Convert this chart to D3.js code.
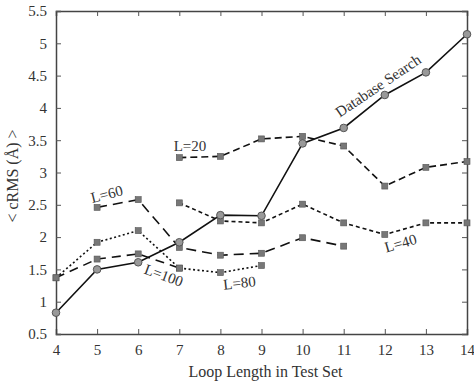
<!DOCTYPE html>
<html>
<head>
<meta charset="utf-8">
<script src="https://cdn.jsdelivr.net/npm/d3@7"></script>
<style>
body { margin: 0; background: #fff; }
text { font-family: "Liberation Serif", "Times New Roman", serif; fill: #333; }
</style>
</head>
<body>
<svg width="474" height="384"></svg>
<script>
var width = 474;
var height = 384;
var margin = {top: 11, right: 7, bottom: 50, left: 56};

// values
var dbX = [4, 5, 6, 7, 8, 9, 10, 11, 12, 13, 14];
var dbY = [0.83, 1.5, 1.61, 1.92, 2.34, 2.33, 3.45, 3.69, 4.2, 4.55, 5.14];
var l20X = [7, 8, 9, 10, 11, 12, 13, 14];
var l20Y = [3.23, 3.25, 3.52, 3.56, 3.41, 2.79, 3.08, 3.17];
var l40X = [7, 8, 9, 10, 11, 12, 13, 14];
var l40Y = [2.53, 2.25, 2.22, 2.51, 2.22, 2.04, 2.22, 2.22];
var l60X = [5, 6, 7, 8, 9, 10, 11];
var l60Y = [2.46, 2.58, 1.84, 1.72, 1.75, 1.99, 1.86];
var l80X = [4, 5, 6, 7, 8, 9];
var l80Y = [1.37, 1.92, 2.1, 1.52, 1.45, 1.56];
var l100X = [4, 5, 6, 7];
var l100Y = [1.37, 1.66, 1.74, 1.52];
var xTicks = [4, 5, 6, 7, 8, 9, 10, 11, 12, 13, 14];
var yTicks = [0.5, 1, 1.5, 2, 2.5, 3, 3.5, 4, 4.5, 5, 5.5];

var xScale = d3.scaleLinear()
    .domain([4, 14])
    .range([margin.left, width - margin.right]);
var yScale = d3.scaleLinear()
    .domain([0.5, 5.5])
    .range([height - margin.bottom, margin.top]);

var svg = d3.select("svg");

// axes with inward ticks on all four sides
var bottom = svg.append("g")
    .attr("transform", "translate(0," + (height - margin.bottom) + ")")
    .call(d3.axisBottom(xScale).tickValues(xTicks).tickSize(-5).tickPadding(10).tickFormat(d3.format("d")));
var top = svg.append("g")
    .attr("transform", "translate(0," + margin.top + ")")
    .call(d3.axisTop(xScale).tickValues(xTicks).tickSize(-5).tickFormat(""));
var left = svg.append("g")
    .attr("transform", "translate(" + margin.left + ",0)")
    .call(d3.axisLeft(yScale).tickValues(yTicks).tickSize(-5).tickPadding(9).tickFormat(d => String(d)));
var right = svg.append("g")
    .attr("transform", "translate(" + (width - margin.right) + ",0)")
    .call(d3.axisRight(yScale).tickValues(yTicks).tickSize(-5).tickFormat(""));

svg.selectAll(".domain").attr("stroke", "#444").attr("stroke-width", 1.5);
svg.selectAll(".tick line").attr("stroke", "#555").attr("stroke-width", 1);
svg.selectAll(".tick text")
    .style("font-family", "Liberation Serif, serif")
    .style("font-size", "15px")
    .attr("fill", "#333");

var series = [
    {x: l100X, y: l100Y, dash: "9,6", marker: "square"},
    {x: l80X, y: l80Y, dash: "2,2.5", marker: "square"},
    {x: l60X, y: l60Y, dash: "10,6", marker: "square"},
    {x: l40X, y: l40Y, dash: "4,3", marker: "square"},
    {x: l20X, y: l20Y, dash: "7,4", marker: "square"},
    {x: dbX, y: dbY, dash: null, marker: "circle"}
];

var line = d3.line()
    .x(d => xScale(d[0]))
    .y(d => yScale(d[1]));

series.forEach(function(s) {
    var pts = s.x.map((v, i) => [v, s.y[i]]);
    svg.append("path")
        .datum(pts)
        .attr("d", line)
        .attr("fill", "none")
        .attr("stroke", "#111")
        .attr("stroke-width", 1.6)
        .attr("stroke-dasharray", s.dash);
    if (s.marker === "circle") {
        svg.selectAll(null)
            .data(pts)
            .enter()
            .append("circle")
            .attr("cx", d => xScale(d[0]))
            .attr("cy", d => yScale(d[1]))
            .attr("r", 3.8)
            .attr("fill", "#999")
            .attr("stroke", "#555")
            .attr("stroke-width", 1);
    } else {
        svg.selectAll(null)
            .data(pts)
            .enter()
            .append("rect")
            .attr("x", d => xScale(d[0]) - 3)
            .attr("y", d => yScale(d[1]) - 3)
            .attr("width", 6)
            .attr("height", 6)
            .attr("fill", "#777")
            .attr("stroke", "#555")
            .attr("stroke-width", 0.6);
    }
});

// series labels
var labels = [
    {t: "L=20", x: 190, y: 151, r: 0},
    {t: "L=60", x: 108, y: 199, r: -14},
    {t: "L=100", x: 162, y: 280, r: 20},
    {t: "L=80", x: 240, y: 288, r: -6},
    {t: "L=40", x: 402, y: 248, r: -16},
    {t: "Database Search", x: 381, y: 90, r: -34}
];
labels.forEach(function(l) {
    svg.append("text")
        .attr("transform", "translate(" + l.x + "," + l.y + ") rotate(" + l.r + ")")
        .attr("text-anchor", "middle")
        .style("font-size", "15px")
        .text(l.t);
});

svg.append("text")
    .attr("x", (margin.left + width - margin.right) / 2 + 4)
    .attr("y", 377)
    .attr("text-anchor", "middle")
    .style("font-size", "16px")
    .text("Loop Length in Test Set");
svg.append("text")
    .attr("transform", "rotate(-90)")
    .attr("x", -176)
    .attr("y", 18)
    .attr("text-anchor", "middle")
    .style("font-size", "16px")
    .text("< cRMS (Å) >");
</script>
</body>
</html>
